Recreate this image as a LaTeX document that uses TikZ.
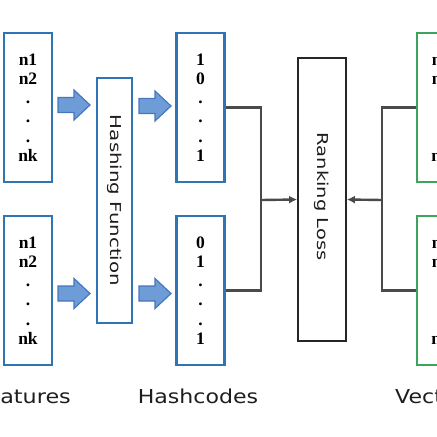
\documentclass[tikz,border=0pt]{standalone}
\usepackage{fontspec}
\usetikzlibrary{arrows.meta}
\setmainfont{Liberation Serif}
\newfontfamily\labfont{DejaVu Sans}
\definecolor{boxblue}{HTML}{2E75B6}
\definecolor{boxgreen}{HTML}{3AA55C}
\definecolor{arrfill}{HTML}{6E9CD6}
\definecolor{arrline}{HTML}{4677BE}
\definecolor{linegray}{HTML}{4A4A4A}
\definecolor{labgray}{HTML}{1E1E1E}
\newcommand{\blockarr}[1]{%
  \draw[blockarrow, shift={(#1)}] (-16,-7.5) -- (0,-7.5) -- (0,-15) -- (16,0) -- (0,15) -- (0,7.5) -- (-16,7.5) -- cycle;}
\begin{document}
\begin{tikzpicture}[x=1pt,y=-1pt,
  vecbox/.style={draw=boxblue, line width=2.2pt, minimum width=48pt, minimum height=149pt, inner sep=0pt,
    align=center, font=\fontsize{17.5}{19.3}\selectfont\bfseries},
  greenbox/.style={vecbox, draw=boxgreen},
  funcbox/.style={draw=boxblue, line width=2.2pt, minimum width=35pt, minimum height=245pt, inner sep=0pt},
  lossbox/.style={draw=black!85, line width=1.8pt, minimum width=48pt, minimum height=283pt, inner sep=0pt},
  rottext/.style={rotate=-90, font=\labfont\fontsize{15}{15}\selectfont, text=labgray, inner sep=0pt},
  blockarrow/.style={fill=arrfill, draw=arrline, line width=1.2pt, line join=miter},
  conn/.style={draw=linegray, line width=2.4pt},
  connarrow/.style={conn, -{Latex[length=8pt,width=8pt]}},
  lab/.style={font=\labfont\fontsize{19.2}{20}\selectfont, text=labgray, inner sep=0pt}
]
\useasboundingbox (0,0) rectangle (437,437);
\clip (0,0) rectangle (437,437);
\fill[white] (0,0) rectangle (437,437);

% feature boxes
\node[vecbox] (f1) at (28,107.5) {n1\\n2\\.\\.\\.\\nk};
\node[vecbox] (f2) at (28,290.5) {n1\\n2\\.\\.\\.\\nk};

% hashing function
\node[funcbox] (hf) at (114.5,200.5) {};
\node[rottext] (hft) at (hf.center) {\scalebox{1.32}[1]{Hashing Function}};

% hashcode boxes
\node[vecbox] (h1) at (200.5,107.5) {1\\0\\.\\.\\.\\1};
\node[vecbox] (h2) at (200.5,290.5) {0\\1\\.\\.\\.\\1};

% ranking loss
\node[lossbox] (rl) at (322,199.5) {};
\node[rottext] (rlt) at ([yshift=3pt]rl.center) {\scalebox{1.3}[1]{Ranking Loss}};

% vector boxes (clipped at the right, as in the reference)
\node[greenbox] (g1) at (441,107.5) {n1\\n2\\.\\.\\.\\nk};
\node[greenbox] (g2) at (441,290.5) {n1\\n2\\.\\.\\.\\nk};

% block arrows
\blockarr{74,105}
\blockarr{155,106}
\blockarr{74,293.5}
\blockarr{155,293.5}

% connectors
\coordinate (j1) at (261,200);
\coordinate (j2) at (382,200);
\draw[conn, line join=miter] (h1.east) -| (j1) |- (h2.east);
\draw[conn, line join=miter] (g1.west) -| (j2) |- (g2.west);
\draw[connarrow] (j1) -- (rl.west);
\draw[connarrow] (j2) -- (rl.east);

% labels
\node[lab, anchor=base east] (lf) at (71,403) {\scalebox{1.16}[1]{Features}};
\node[lab, anchor=base] (lh) at (198,403) {\scalebox{1.15}[1]{Hashcodes}};
\node[lab, anchor=base west] (lv) at (395,403) {\scalebox{1.15}[1]{Vectors}};
\end{tikzpicture}
\end{document}
